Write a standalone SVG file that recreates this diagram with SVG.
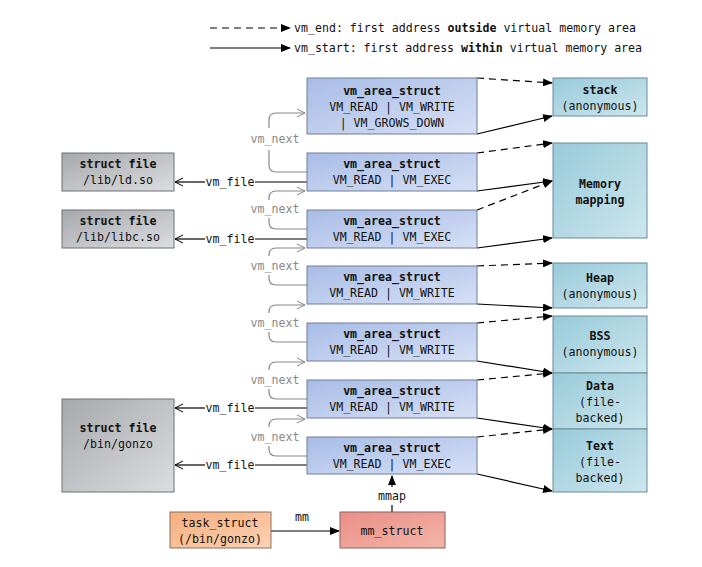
<svg xmlns="http://www.w3.org/2000/svg" width="702" height="567" viewBox="0 0 702 567">
<defs>
<linearGradient id="gv" x1="0" y1="0" x2="1" y2="1"><stop offset="0" stop-color="#a8bce6"/><stop offset="1" stop-color="#d6e0f5"/></linearGradient>
<linearGradient id="gt" x1="0" y1="0" x2="1" y2="1"><stop offset="0" stop-color="#98cad9"/><stop offset="1" stop-color="#cde6ee"/></linearGradient>
<linearGradient id="gg" x1="0" y1="0" x2="1" y2="1"><stop offset="0" stop-color="#a6a8ac"/><stop offset="1" stop-color="#dcdde0"/></linearGradient>
<linearGradient id="go" x1="0" y1="0" x2="1" y2="1"><stop offset="0" stop-color="#f7ae7c"/><stop offset="1" stop-color="#fbd2b4"/></linearGradient>
<linearGradient id="gr" x1="0" y1="0" x2="1" y2="1"><stop offset="0" stop-color="#e98f86"/><stop offset="1" stop-color="#f4b4a8"/></linearGradient>
<marker id="ah" markerWidth="10" markerHeight="8" refX="9" refY="4" orient="auto" markerUnits="userSpaceOnUse"><path d="M0,0 L10,4 L0,8 Z" fill="#000"/></marker>
<marker id="oa" markerWidth="10" markerHeight="10" refX="9" refY="5" orient="auto" markerUnits="userSpaceOnUse"><path d="M1,1 L9,5 L1,9" fill="none" stroke="#000"/></marker>
<marker id="ga" markerWidth="10" markerHeight="10" refX="9" refY="5" orient="auto" markerUnits="userSpaceOnUse"><path d="M1,1 L9,5 L1,9" fill="none" stroke="#888"/></marker>
</defs>
<style>
text{font-family:"DejaVu Sans Mono","Liberation Mono",monospace;font-size:11.6px;fill:#111;text-anchor:middle}
.b{font-weight:bold}
.l{text-anchor:start}
.n{fill:#888}
.vma{fill:url(#gv);stroke:#6f7f99;stroke-width:1}
.tl{fill:url(#gt);stroke:#6a8c96;stroke-width:1}
.fl{fill:url(#gg);stroke:#6f7075;stroke-width:1}
.c{stroke:#000;stroke-width:1.2;fill:none}
.d{stroke:#000;stroke-width:1.2;fill:none;stroke-dasharray:7,5}
.g{stroke:#888;stroke-width:1.2;fill:none}
</style>
<g id="legend">
<line class="d" x1="210" y1="28" x2="290" y2="28" marker-end="url(#ah)"/>
<text class="l" x="294" y="32" textLength="342">vm_end: first address <tspan class="b">outside</tspan> virtual memory area</text>
<line class="c" x1="210" y1="48" x2="290" y2="48" marker-end="url(#ah)"/>
<text class="l" x="294" y="52" textLength="348">vm_start: first address <tspan class="b">within</tspan> virtual memory area</text>
</g>
<g id="connectors">
<line class="d" x1="477" y1="78" x2="552" y2="83" marker-end="url(#ah)"/>
<line class="c" x1="477" y1="134" x2="552" y2="116" marker-end="url(#ah)"/>
<line class="d" x1="477" y1="153" x2="552" y2="143" marker-end="url(#ah)"/>
<line class="c" x1="477" y1="191" x2="552" y2="181" marker-end="url(#ah)"/>
<line class="d" x1="477" y1="210" x2="552" y2="181" marker-end="url(#ah)"/>
<line class="c" x1="477" y1="248" x2="552" y2="238" marker-end="url(#ah)"/>
<line class="d" x1="477" y1="266" x2="552" y2="263" marker-end="url(#ah)"/>
<line class="c" x1="477" y1="304" x2="552" y2="308" marker-end="url(#ah)"/>
<line class="d" x1="477" y1="323" x2="552" y2="316" marker-end="url(#ah)"/>
<line class="c" x1="477" y1="361" x2="552" y2="373" marker-end="url(#ah)"/>
<line class="d" x1="477" y1="380" x2="552" y2="373" marker-end="url(#ah)"/>
<line class="c" x1="477" y1="418" x2="552" y2="429" marker-end="url(#ah)"/>
<line class="d" x1="477" y1="437" x2="552" y2="429" marker-end="url(#ah)"/>
<line class="c" x1="477" y1="474" x2="552" y2="491" marker-end="url(#ah)"/>
<path class="c" d="M307,182 H255"/><line class="c" x1="205" y1="182" x2="175" y2="182" marker-end="url(#oa)"/>
<path class="c" d="M307,239 H255"/><line class="c" x1="205" y1="239" x2="175" y2="239" marker-end="url(#oa)"/>
<path class="c" d="M307,408 H255"/><line class="c" x1="205" y1="408" x2="175" y2="408" marker-end="url(#oa)"/>
<path class="c" d="M307,465 H255"/><line class="c" x1="205" y1="465" x2="175" y2="465" marker-end="url(#oa)"/>
<text x="230" y="186">vm_file</text>
<text x="230" y="243">vm_file</text>
<text x="230" y="412">vm_file</text>
<text x="230" y="469">vm_file</text>
<path class="g" d="M307,172 H276 Q269,172 269,165 V150 M269,128 V120 Q269,113 276,113 H305" marker-end="url(#ga)"/>
<path class="g" d="M307,229 H276 Q269,229 269,222 V218 M269,200 V198 Q269,191 276,191 H305" marker-end="url(#ga)"/>
<path class="g" d="M307,285 H276 Q269,285 269,278 V275 M269,256 V255 Q269,248 276,248 H305" marker-end="url(#ga)"/>
<path class="g" d="M307,342 H276 Q269,342 269,335 V332 M269,313 V312 Q269,305 276,305 H305" marker-end="url(#ga)"/>
<path class="g" d="M307,399 H276 Q269,399 269,392 V389 M269,370 V369 Q269,362 276,362 H305" marker-end="url(#ga)"/>
<path class="g" d="M307,456 H276 Q269,456 269,449 V446 M269,427 V426 Q269,419 276,419 H305" marker-end="url(#ga)"/>
<text class="n" x="275" y="143">vm_next</text>
<text class="n" x="275" y="213">vm_next</text>
<text class="n" x="275" y="270">vm_next</text>
<text class="n" x="275" y="327">vm_next</text>
<text class="n" x="275" y="384">vm_next</text>
<text class="n" x="275" y="441">vm_next</text>
<line class="c" x1="271" y1="531" x2="339" y2="531" marker-end="url(#ah)"/>
<text x="302" y="521">mm</text>
<path class="c" d="M392,512 V505" />
<line class="c" x1="392" y1="487" x2="392" y2="476" marker-end="url(#ah)"/>
<text x="392" y="500">mmap</text>
</g>
<g id="vma1"><rect class="vma" x="307" y="78" width="170" height="56"/><text class="b" x="392" y="95">vm_area_struct</text><text x="392" y="111">VM_READ | VM_WRITE</text><text x="392" y="127">| VM_GROWS_DOWN</text></g>
<g id="vma2"><rect class="vma" x="307" y="153" width="170" height="38"/><text class="b" x="392" y="168">vm_area_struct</text><text x="392" y="184">VM_READ | VM_EXEC</text></g>
<g id="vma3"><rect class="vma" x="307" y="210" width="170" height="38"/><text class="b" x="392" y="225">vm_area_struct</text><text x="392" y="241">VM_READ | VM_EXEC</text></g>
<g id="vma4"><rect class="vma" x="307" y="266" width="170" height="38"/><text class="b" x="392" y="281">vm_area_struct</text><text x="392" y="297">VM_READ | VM_WRITE</text></g>
<g id="vma5"><rect class="vma" x="307" y="323" width="170" height="38"/><text class="b" x="392" y="338">vm_area_struct</text><text x="392" y="354">VM_READ | VM_WRITE</text></g>
<g id="vma6"><rect class="vma" x="307" y="380" width="170" height="38"/><text class="b" x="392" y="395">vm_area_struct</text><text x="392" y="411">VM_READ | VM_WRITE</text></g>
<g id="vma7"><rect class="vma" x="307" y="437" width="170" height="37"/><text class="b" x="392" y="452">vm_area_struct</text><text x="392" y="468">VM_READ | VM_EXEC</text></g>
<g id="stack"><rect class="tl" x="553" y="78" width="94" height="38"/><text class="b" x="600" y="94">stack</text><text x="600" y="110">(anonymous)</text></g>
<g id="mmapping"><rect class="tl" x="553" y="143" width="94" height="95"/><text class="b" x="600" y="188">Memory</text><text class="b" x="600" y="204">mapping</text></g>
<g id="heap"><rect class="tl" x="553" y="263" width="94" height="45"/><text class="b" x="600" y="282">Heap</text><text x="600" y="298">(anonymous)</text></g>
<g id="bss"><rect class="tl" x="553" y="316" width="94" height="57"/><text class="b" x="600" y="340">BSS</text><text x="600" y="356">(anonymous)</text></g>
<g id="data"><rect class="tl" x="553" y="373" width="94" height="56"/><text class="b" x="600" y="390">Data</text><text x="600" y="406">(file-</text><text x="600" y="422">backed)</text></g>
<g id="text"><rect class="tl" x="553" y="429" width="94" height="63"/><text class="b" x="600" y="450">Text</text><text x="600" y="466">(file-</text><text x="600" y="482">backed)</text></g>
<g id="file-ld"><rect class="fl" x="62" y="153" width="112" height="38"/><text class="b" x="118" y="168">struct file</text><text x="118" y="184">/lib/ld.so</text></g>
<g id="file-libc"><rect class="fl" x="62" y="210" width="112" height="38"/><text class="b" x="118" y="225">struct file</text><text x="118" y="241">/lib/libc.so</text></g>
<g id="file-gonzo"><rect class="fl" x="62" y="399" width="112" height="93"/><text class="b" x="118" y="432">struct file</text><text x="118" y="448">/bin/gonzo</text></g>
<g id="task"><rect x="170" y="512" width="101" height="36" fill="url(#go)" stroke="#8a7060"/><text x="220" y="527">task_struct</text><text x="220" y="543">(/bin/gonzo)</text></g>
<g id="mm"><rect x="340" y="512" width="105" height="36" fill="url(#gr)" stroke="#8a6560"/><text x="392" y="535">mm_struct</text></g>
</svg>
